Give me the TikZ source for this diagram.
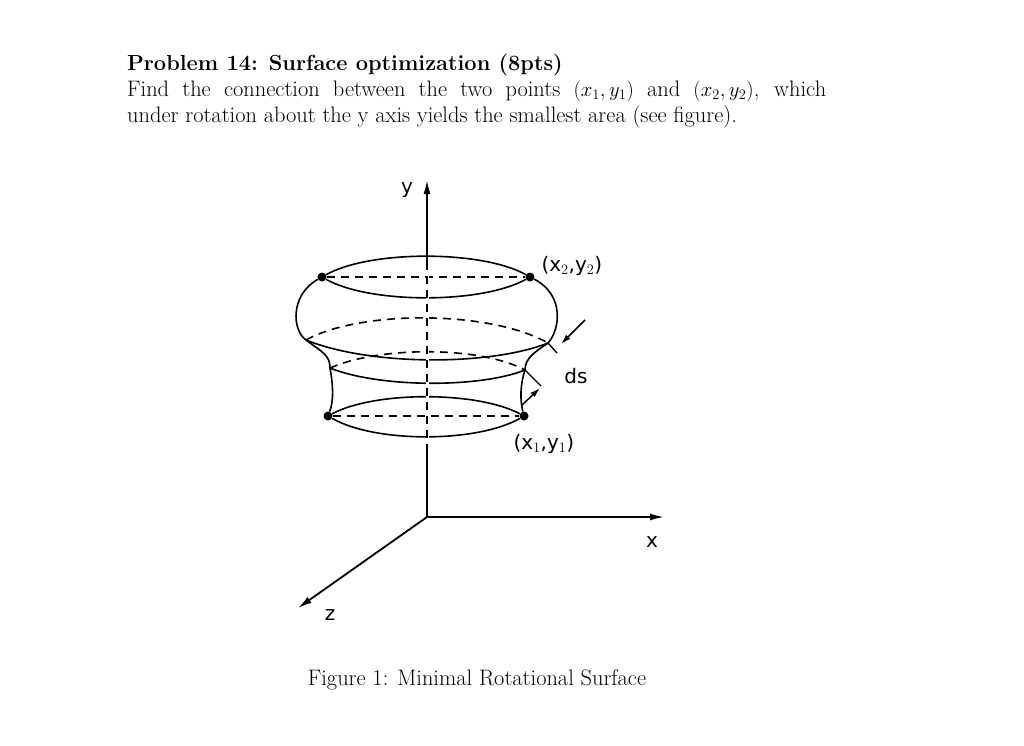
\documentclass[tikz,border=0pt]{standalone}
\usepackage{fontspec}
\setsansfont{DejaVu Sans}
\usetikzlibrary{arrows.meta}
\begin{document}
\begin{tikzpicture}[x=1pt,y=-1pt,
  curve/.style={line width=1.6pt},
  dsh/.style={line width=1.6pt,dash pattern=on 8pt off 6pt},
  dot/.style={circle,fill,inner sep=0pt,minimum size=9pt},
  lbl/.style={font=\sffamily\fontsize{20}{20}\selectfont},
  txt/.style={anchor=west,inner sep=0pt,font=\fontsize{22.4}{24}\selectfont}]
\useasboundingbox (0,0) rectangle (1024,745);
\node[txt,font=\fontsize{21.8}{24}\selectfont] (t1) at (127,65) {\bfseries Problem 14: Surface optimization (8pts)};
\node[txt] (t2) at (127,91) {\makebox[699pt][s]{Find the connection between the two points $(x_1,y_1)$ and $(x_2,y_2)$, which}};
\node[txt] (t3) at (127,117) {under rotation about the y axis yields the smallest area (see figure).};
\node[txt,anchor=center] (cap) at (477,680) {Figure 1: Minimal Rotational Surface};
% axes
\coordinate (O) at (427,517);
\coordinate (ytop) at (427,180);
\coordinate (xend) at (664,517);
\coordinate (zend) at (298,608);
\draw[line width=1.8pt,-{Latex[length=14pt,width=7pt]}] (O) -- (ytop);
\draw[line width=1.8pt,-{Latex[length=14pt,width=7pt]}] (O) -- (xend);
\draw[line width=1.8pt,-{Latex[length=14pt,width=7pt]}] (O) -- (zend);
\node[lbl] (ly) at (407,190) {y};
\node[lbl] (lx) at (652,542) {x};
\node[lbl] (lz) at (330,615) {z};
% points
\node[dot] (p2l) at (322,277) {};
\node[dot] (p2) at (530,277) {};
\node[dot] (p1l) at (328,416) {};
\node[dot] (p1) at (524,416) {};
\node[lbl,anchor=west] (l2) at (538,266) {(x$_{2}$,y$_{2}$)};
\node[lbl,anchor=west] (l1) at (510,444) {(x$_{1}$,y$_{1}$)};
% top ellipse
\draw[curve] (p2l) .. controls (370,250) and (482,250) .. (p2);
\draw[curve] (p2l) .. controls (370,304) and (482,304) .. (p2);
\draw[dsh] (p2l) -- (p2);
% bottom ellipse
\draw[curve] (p1l) .. controls (375,391) and (477,391) .. (p1);
\draw[curve] (p1l) .. controls (375,443) and (477,443) .. (p1);
\draw[dsh] (p1l) -- (p1);
% profile
\draw[curve] (p2l) .. controls (290,295) and (292,330) .. (306,340)
  .. controls (322,352) and (330,355) .. (330,368) .. controls (333,385) and (334,400) .. (p1l);
\draw[curve] (p2) .. controls (565,295) and (560,330) .. (548,343)
  .. controls (535,352) and (525,358) .. (525,370) .. controls (520,385) and (520,400) .. (p1);
% bands
\draw[curve] (306,340) .. controls (370,366) and (490,366) .. (548,343);
\draw[dsh] (306,340) .. controls (360,310) and (490,310) .. (548,343);
\draw[curve] (330,368) .. controls (380,388) and (480,388) .. (525,370);
\draw[dsh] (330,368) .. controls (380,346) and (480,346) .. (525,370);
% dashed axis part
\draw[white,line width=3pt] (427,262) -- (427,452);
\draw[dsh] (427,262) -- (427,452);
% ds
\draw[line width=1.4pt] (548,343) -- (557,353);
\draw[line width=1.4pt] (525,370) -- (541,386);
\draw[line width=1.5pt,-{Latex[length=10pt,width=6pt]}] (585,320) -- (561,344);
\draw[line width=1.5pt,-{Latex[length=10pt,width=6pt]}] (522,405) -- (540,388);
\node[lbl] (lds) at (576,376) {ds};
\end{tikzpicture}
\end{document}
